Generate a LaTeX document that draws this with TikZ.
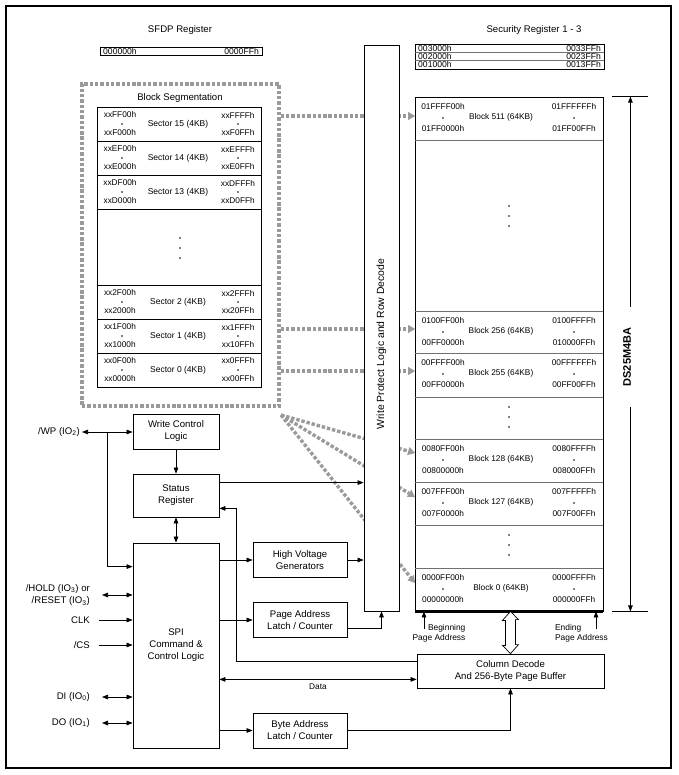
\documentclass[tikz,border=0pt]{standalone}
\usepackage{fontspec}
\setmainfont{Liberation Sans}
\usetikzlibrary{arrows.meta,calc,positioning}
\definecolor{dsInk}{HTML}{000000}
\definecolor{dsGuide}{HTML}{9A9A9A}
\definecolor{dsRule}{HTML}{707070}
\tikzset{
  ds frame/.style={draw=dsInk, line width=1.3pt},
  ds box/.style={draw=dsInk, line width=.8pt, fill=white, align=center,
    inner sep=0pt, font=\fontsize{9.6}{12}\selectfont},
  ds table/.style={draw=dsInk, line width=.8pt, inner sep=0pt},
  ds title/.style={font=\fontsize{9.6}{11.5}\selectfont, text=dsInk, inner sep=0pt},
  ds addr/.style={font=\fontsize{8.3}{10}\selectfont, text=dsInk, inner sep=0pt},
  ds reg/.style={font=\fontsize{8.6}{10}\selectfont, text=dsInk, inner sep=0pt},
  ds signal/.style={font=\fontsize{9.6}{12.5}\selectfont, align=right, anchor=east, inner sep=0pt},
  ds dot/.style={circle, fill=dsInk, inner sep=0pt, minimum size=1.8pt},
  ds line/.style={draw=dsInk, line width=.7pt},
  ds sep/.style={draw=dsRule, line width=.7pt},
  ds wire/.style={ds line, -{Triangle[length=6pt,width=4.6pt]}},
  ds bus/.style={ds line, {Triangle[length=6pt,width=4.6pt]}-{Triangle[length=6pt,width=4.6pt]}},
  ds guide/.style={draw=dsGuide, line width=3.4pt, dash pattern=on 3.4pt off 1.9pt},
  ds map/.style={ds guide, -{Triangle[length=7pt,width=8.5pt,line width=0pt]}},
  ds hollow/.style={draw=dsInk, fill=white, line width=.7pt, line join=miter},
  ds part/.style={font=\fontsize{11}{13}\selectfont\bfseries, fill=white, rotate=90,
    inner xsep=21pt, inner ysep=2pt}
}

\begin{document}
\begin{tikzpicture}[x=1pt,y=-1pt]
  \useasboundingbox (0,0) rectangle (678,775);
  \draw[ds frame] (6,6) rectangle (671,768);

  % SFDP and security registers
  \node[ds title] (sfdpT) at (180,30) {SFDP Register};
  \node[ds table, minimum width=162pt, minimum height=8pt] (sfdp) at (181,51) {};
  \node[ds reg, anchor=west] (sfdpLo) at (103,51) {000000h};
  \node[ds reg, anchor=east] (sfdpHi) at (259,51) {0000FFh};

  \node[ds title] (secT) at (534,30) {Security Register 1 - 3};
  \node[ds table, minimum width=189pt, minimum height=25pt] (secR) at (509.5,56.5) {};
  \draw[ds sep] (415,52.3) -- (604,52.3) (415,60.7) -- (604,60.7);
  \foreach \ry/\lo/\hi [count=\k] in {48.2/003000h/0033FFh, 56.5/002000h/0023FFh, 64.8/001000h/0013FFh}{
    \node[ds reg, anchor=west] (secLo\k) at (418,\ry) {\lo};
    \node[ds reg, anchor=east] (secHi\k) at (601,\ry) {\hi};
  }

  % block segmentation
  \node[ds guide, minimum width=197pt, minimum height=322pt, inner sep=0pt] (seg) at (180.5,245) {};
  \node[ds title] (segT) at (180,98) {Block Segmentation};
  \node[ds table, minimum width=164pt, minimum height=280pt] (segTab) at (179,247) {};
  \foreach \ry in {141,175,209,285,319,353} \draw[ds line] (97,\ry) -- (261,\ry);
  \foreach \ry/\sn/\lt/\lb/\rt/\rb in {107/15/xxFF00h/xxF000h/xxFFFFh/xxF0FFh,
      141/14/xxEF00h/xxE000h/xxEFFFh/xxE0FFh, 175/13/xxDF00h/xxD000h/xxDFFFh/xxD0FFh,
      285/2/xx2F00h/xx2000h/xx2FFFh/xx20FFh, 319/1/xx1F00h/xx1000h/xx1FFFh/xx10FFh,
      353/0/xx0F00h/xx0000h/xx0FFFh/xx00FFh}{
    \node[ds addr] (sec\sn-lt) at (120,\ry+8) {\lt};
    \node[ds dot] (sec\sn-ld) at (122,\ry+17) {};
    \node[ds addr] (sec\sn-lb) at (120,\ry+26) {\lb};
    \node[ds addr, font=\fontsize{8.5}{10}\selectfont] (sec\sn) at (178,\ry+17) {Sector \sn\ (4KB)};
    \node[ds addr] (sec\sn-rt) at (238,\ry+8) {\rt};
    \node[ds dot] (sec\sn-rd) at (238,\ry+17) {};
    \node[ds addr] (sec\sn-rb) at (238,\ry+26) {\rb};
  }
  \foreach \ry [count=\k] in {238,248,258} \node[ds dot] (segDot\k) at (180,\ry) {};

  % memory array
  \node[ds table, minimum width=188pt, minimum height=514pt] (mem) at (509,354) {};
  \foreach \ry in {140,311,353,397,439,482,525,568} \draw[ds sep] (415,\ry) -- (603,\ry);
  \draw[ds line, line width=2.6pt] (mem.south west) -- (mem.south east);
  \foreach \ry/\bn/\lt/\lb/\rt/\rb in {97/511/01FFFF00h/01FF0000h/01FFFFFFh/01FF00FFh,
      311/256/0100FF00h/00FF0000h/0100FFFFh/010000FFh, 353/255/00FFFF00h/00FF0000h/00FFFFFFh/00FF00FFh,
      439/128/0080FF00h/00800000h/0080FFFFh/008000FFh, 482/127/007FFF00h/007F0000h/007FFFFFh/007F00FFh,
      568/0/0000FF00h/00000000h/0000FFFFh/000000FFh}{
    \node[ds addr] (blk\bn-lt) at (443,\ry+10) {\lt};
    \node[ds dot] (blk\bn-ld) at (443,\ry+21) {};
    \node[ds addr] (blk\bn-lb) at (443,\ry+32) {\lb};
    \node[ds addr] (blk\bn) at (501,\ry+20) {Block \bn\ (64KB)};
    \node[ds addr] (blk\bn-rt) at (574,\ry+10) {\rt};
    \node[ds dot] (blk\bn-rd) at (574,\ry+21) {};
    \node[ds addr] (blk\bn-rb) at (574,\ry+32) {\rb};
  }
  \foreach \ry [count=\k] in {206,216,226,407,417,427,535,545,555} \node[ds dot] (memDot\k) at (509,\ry) {};

  % sector to block mapping
  \coordinate (in511) at (415,116);
  \coordinate (in256) at (415,329);
  \coordinate (in255) at (415,371);
  \coordinate (in128) at (415,453);
  \coordinate (in127) at (415,497);
  \coordinate (in0) at (415,583);
  \coordinate (segC) at (281,415);
  \foreach \b in {511,256,255} \draw[ds map] (seg.east |- in\b) -- (in\b);
  \foreach \b in {128,127,0} \draw[ds map] (segC) -- (in\b);

  \node[ds box, minimum width=35pt, minimum height=566pt] (wpr) at (381.5,328) {};
  \node[ds box, draw=none, fill=none, rotate=90, font=\fontsize{10.4}{12}\selectfont] (wprT) at (381.5,344) {Write Protect Logic and Row Decode};

  % device size
  \draw[ds line] ([xshift=9pt]mem.north east) -- ++(36,0);
  \draw[ds line] ([xshift=9pt]mem.south east) -- ++(36,0);
  \draw[ds bus] ([xshift=27pt]mem.north east) -- ([xshift=27pt]mem.south east);
  \node[ds part] (part) at (627,357) {DS25M4BA};

  % control logic
  \node[ds box, minimum width=86pt, minimum height=35pt] (wcl) at (176,431.5) {Write Control\\Logic};
  \node[ds box, minimum width=86pt, minimum height=43pt] (sreg) at (176,495.5) {Status\\Register};
  \node[ds box, minimum width=86pt, minimum height=205pt] (spi) at (176,645.5) {SPI\\Command \&\\Control Logic};
  \node[ds box, minimum width=94pt, minimum height=35pt] (hvg) at (300,560) {High Voltage\\Generators};
  \node[ds box, minimum width=94pt, minimum height=35pt] (pal) at (300,620) {Page Address\\Latch / Counter};
  \node[ds box, minimum width=94pt, minimum height=35pt] (bal) at (300,730.5) {Byte Address\\Latch / Counter};
  \node[ds box, minimum width=187pt, minimum height=34pt] (cdb) at (510.5,671) {Column Decode\\And 256-Byte Page Buffer};

  \draw[ds hollow] (cdb.north) -- ++(8,-9) -- ++(-3,0) -- ++(0,-25) -- ++(3,0)
    -- (cdb.north |- mem.south) -- ++(-8,9) -- ++(3,0) -- ++(0,25) -- ++(-3,0) -- cycle;

  \node[ds addr, align=right, font=\fontsize{8.4}{10}\selectfont] (bpa) at (439,633) {Beginning\\Page Address};
  \node[ds addr, align=left, font=\fontsize{8.4}{10}\selectfont] (epa) at (581.5,633) {Ending\\Page Address};
  \coordinate (bpaFoot) at (424,629);
  \coordinate (epaFoot) at (596,629);
  \draw[ds wire] (bpaFoot) -- (bpaFoot |- mem.south);
  \draw[ds wire] (epaFoot) -- (epaFoot |- mem.south);

  % pins
  \node[ds signal] (sigWP) at (80,432) {/WP (IO\textsubscript{2})};
  \node[ds signal] (sigHOLD) at (90,595) {/HOLD (IO\textsubscript{3}) or\\/RESET (IO\textsubscript{3})};
  \node[ds signal] (sigCLK) at (90,620) {CLK};
  \node[ds signal] (sigCS) at (90,645) {/CS};
  \node[ds signal] (sigDI) at (90,697) {DI (IO\textsubscript{0})};
  \node[ds signal] (sigDO) at (90,723) {DO (IO\textsubscript{1})};

  \draw[ds bus] ([xshift=2pt]sigWP.east) -- (sigWP.east -| wcl.west);
  \coordinate (wpJ) at ([xshift=27pt]sigWP.east);
  \coordinate (spiWP) at ($(spi.north west)+(0,24)$);
  \draw[ds wire] (wpJ) |- (spiWP);
  \draw[ds bus] ([xshift=12pt]sigHOLD.east) -- (sigHOLD.east -| spi.west);
  \draw[ds wire] ([xshift=9pt]sigCLK.east) -- (sigCLK.east -| spi.west);
  \draw[ds wire] ([xshift=9pt]sigCS.east) -- (sigCS.east -| spi.west);
  \draw[ds bus] ([xshift=12pt]sigDI.east) -- (sigDI.east -| spi.west);
  \draw[ds bus] ([xshift=12pt]sigDO.east) -- (sigDO.east -| spi.west);

  % internal wires
  \draw[ds wire] (wcl) -- (sreg);
  \draw[ds bus] (sreg) -- (spi);
  \coordinate (srOut) at ($(sreg.north east)+(0,9)$);
  \draw[ds wire] (srOut) -- (srOut -| wpr.west);
  \coordinate (srIn) at ($(sreg.south east)+(0,-9)$);
  \coordinate (cdOut) at ($(cdb.north west)+(0,8)$);
  \draw[ds wire] (cdOut) -- ++(-180,0) |- (srIn);
  \draw[ds wire] (spi.east |- hvg.west) -- (hvg.west);
  \draw[ds wire] (hvg.east) -- (hvg.east -| wpr.west);
  \draw[ds wire] (spi.east |- pal.west) -- (pal.west);
  \coordinate (palOut) at ($(pal.east)+(0,8)$);
  \draw[ds wire] (palOut) -| (wpr.south);
  \coordinate (dataIn) at ($(cdb.south west)+(0,-9)$);
  \draw[ds bus] (dataIn -| spi.east) -- node[ds addr, below=4pt] (dataL) {Data} (dataIn);
  \draw[ds wire] (spi.east |- bal.west) -- (bal.west);
  \draw[ds wire] (bal.east) -| (cdb.south);
\end{tikzpicture}
\end{document}
